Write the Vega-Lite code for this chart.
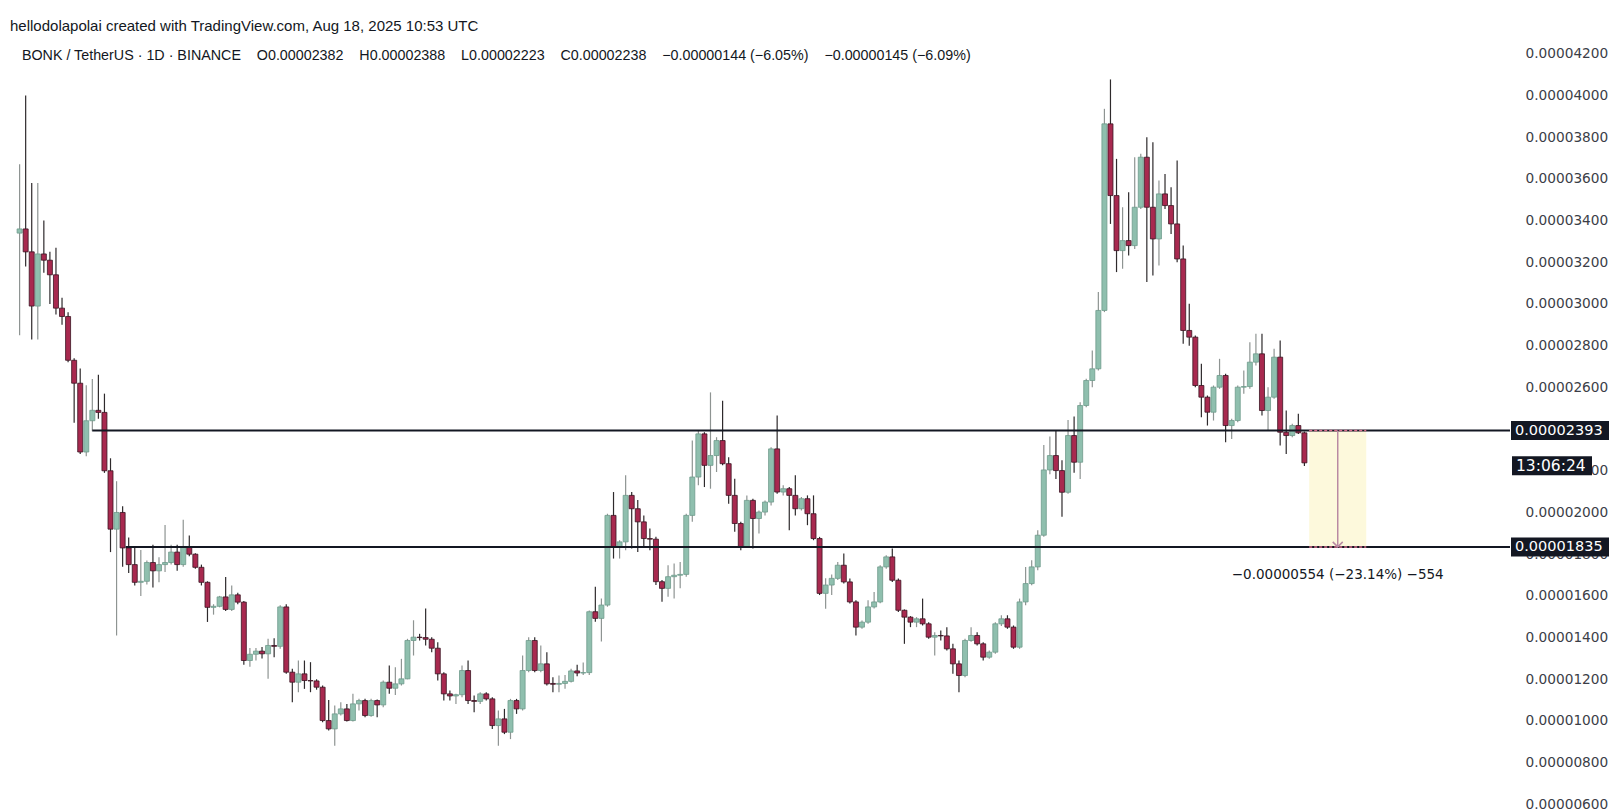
{
  "$schema": "https://vega.github.io/schema/vega-lite/v6.json",
  "width": 1510,
  "height": 810,
  "autosize": {"type": "none"},
  "padding": {"left": 0, "top": 0, "right": 111, "bottom": 0},
  "background": "#ffffff",
  "config": {"view": {"stroke": null}},
  "title": {
    "text": "hellodolapolai created with TradingView.com, Aug 18, 2025 10:53 UTC",
    "subtitle": "\u200b\u00a0\u00a0\u00a0BONK / TetherUS · 1D · BINANCE\u00a0\u00a0\u00a0 O0.00002382\u00a0\u00a0\u00a0 H0.00002388\u00a0\u00a0\u00a0 L0.00002223\u00a0\u00a0\u00a0 C0.00002238\u00a0\u00a0\u00a0 −0.00000144 (−6.05%)\u00a0\u00a0\u00a0 −0.00000145 (−6.09%)",
    "anchor": "start",
    "frame": "group",
    "orient": "top",
    "offset": -63,
    "dx": 10,
    "font": "Liberation Sans",
    "fontSize": 15,
    "fontWeight": "normal",
    "color": "#131722",
    "subtitleFont": "Liberation Sans",
    "subtitleFontSize": 14.3,
    "subtitleColor": "#131722",
    "subtitlePadding": 15
  },
  "datasets": {
    "candles": [
      {"t":"2025-01-18","o":33.4e-6,"h":36.7e-6,"l":28.5e-6,"c":33.6e-6},
      {"t":"2025-01-19","o":33.6e-6,"h":40.0e-6,"l":31.8e-6,"c":32.5e-6},
      {"t":"2025-01-20","o":32.5e-6,"h":35.8e-6,"l":28.3e-6,"c":29.9e-6},
      {"t":"2025-01-21","o":29.9e-6,"h":35.8e-6,"l":28.3e-6,"c":32.4e-6},
      {"t":"2025-01-22","o":32.4e-6,"h":34.0e-6,"l":31.5e-6,"c":32.1e-6},
      {"t":"2025-01-23","o":32.1e-6,"h":32.5e-6,"l":30.0e-6,"c":31.4e-6},
      {"t":"2025-01-24","o":31.4e-6,"h":32.7e-6,"l":29.5e-6,"c":29.8e-6},
      {"t":"2025-01-25","o":29.8e-6,"h":30.3e-6,"l":29.0e-6,"c":29.4e-6},
      {"t":"2025-01-26","o":29.4e-6,"h":29.6e-6,"l":27.2e-6,"c":27.3e-6},
      {"t":"2025-01-27","o":27.3e-6,"h":27.4e-6,"l":24.3e-6,"c":26.2e-6},
      {"t":"2025-01-28","o":26.2e-6,"h":26.9e-6,"l":22.8e-6,"c":22.9e-6},
      {"t":"2025-01-29","o":22.9e-6,"h":26.1e-6,"l":22.7e-6,"c":24.4e-6},
      {"t":"2025-01-30","o":24.4e-6,"h":26.4e-6,"l":23.9e-6,"c":24.9e-6},
      {"t":"2025-01-31","o":24.9e-6,"h":26.6e-6,"l":24.5e-6,"c":24.8e-6},
      {"t":"2025-02-01","o":24.8e-6,"h":25.7e-6,"l":21.9e-6,"c":22.0e-6},
      {"t":"2025-02-02","o":22.0e-6,"h":22.6e-6,"l":18.1e-6,"c":19.2e-6},
      {"t":"2025-02-03","o":19.2e-6,"h":21.5e-6,"l":14.1e-6,"c":20.0e-6},
      {"t":"2025-02-04","o":20.0e-6,"h":20.3e-6,"l":17.4e-6,"c":18.3e-6},
      {"t":"2025-02-05","o":18.3e-6,"h":18.8e-6,"l":17.1e-6,"c":17.5e-6},
      {"t":"2025-02-06","o":17.5e-6,"h":18.3e-6,"l":16.5e-6,"c":16.65e-6},
      {"t":"2025-02-07","o":16.65e-6,"h":18.2e-6,"l":16.0e-6,"c":16.7e-6},
      {"t":"2025-02-08","o":16.7e-6,"h":17.7e-6,"l":16.55e-6,"c":17.6e-6},
      {"t":"2025-02-09","o":17.6e-6,"h":18.45e-6,"l":16.4e-6,"c":17.2e-6},
      {"t":"2025-02-10","o":17.2e-6,"h":17.85e-6,"l":16.65e-6,"c":17.5e-6},
      {"t":"2025-02-11","o":17.5e-6,"h":19.4e-6,"l":17.15e-6,"c":17.6e-6},
      {"t":"2025-02-12","o":17.6e-6,"h":18.45e-6,"l":17.5e-6,"c":18.1e-6},
      {"t":"2025-02-13","o":18.1e-6,"h":18.45e-6,"l":17.2e-6,"c":17.5e-6},
      {"t":"2025-02-14","o":17.5e-6,"h":19.65e-6,"l":17.4e-6,"c":18.35e-6},
      {"t":"2025-02-15","o":18.35e-6,"h":18.9e-6,"l":17.9e-6,"c":18.0e-6},
      {"t":"2025-02-16","o":18.0e-6,"h":18.05e-6,"l":17.3e-6,"c":17.37e-6},
      {"t":"2025-02-17","o":17.37e-6,"h":17.5e-6,"l":16.5e-6,"c":16.65e-6},
      {"t":"2025-02-18","o":16.65e-6,"h":16.7e-6,"l":14.75e-6,"c":15.45e-6},
      {"t":"2025-02-19","o":15.45e-6,"h":15.6e-6,"l":15.1e-6,"c":15.5e-6},
      {"t":"2025-02-20","o":15.5e-6,"h":16.0e-6,"l":15.45e-6,"c":15.95e-6},
      {"t":"2025-02-21","o":15.95e-6,"h":16.9e-6,"l":15.27e-6,"c":15.35e-6},
      {"t":"2025-02-22","o":15.35e-6,"h":16.5e-6,"l":15.27e-6,"c":16.05e-6},
      {"t":"2025-02-23","o":16.05e-6,"h":16.15e-6,"l":15.6e-6,"c":15.7e-6},
      {"t":"2025-02-24","o":15.7e-6,"h":15.75e-6,"l":12.7e-6,"c":12.9e-6},
      {"t":"2025-02-25","o":12.9e-6,"h":13.5e-6,"l":12.6e-6,"c":13.2e-6},
      {"t":"2025-02-26","o":13.2e-6,"h":13.5e-6,"l":12.9e-6,"c":13.35e-6},
      {"t":"2025-02-27","o":13.35e-6,"h":13.55e-6,"l":13.0e-6,"c":13.22e-6},
      {"t":"2025-02-28","o":13.22e-6,"h":13.94e-6,"l":12.02e-6,"c":13.62e-6},
      {"t":"2025-03-01","o":13.62e-6,"h":13.97e-6,"l":13.06e-6,"c":13.58e-6},
      {"t":"2025-03-02","o":13.58e-6,"h":15.55e-6,"l":13.46e-6,"c":15.47e-6},
      {"t":"2025-03-03","o":15.47e-6,"h":15.6e-6,"l":12.26e-6,"c":12.34e-6},
      {"t":"2025-03-04","o":12.34e-6,"h":12.5e-6,"l":10.9e-6,"c":11.86e-6},
      {"t":"2025-03-05","o":11.86e-6,"h":12.9e-6,"l":11.38e-6,"c":12.26e-6},
      {"t":"2025-03-06","o":12.26e-6,"h":12.9e-6,"l":11.54e-6,"c":11.94e-6},
      {"t":"2025-03-07","o":11.94e-6,"h":12.82e-6,"l":11.38e-6,"c":11.92e-6},
      {"t":"2025-03-08","o":11.92e-6,"h":12.0e-6,"l":11.5e-6,"c":11.62e-6},
      {"t":"2025-03-09","o":11.62e-6,"h":11.7e-6,"l":9.94e-6,"c":10.02e-6},
      {"t":"2025-03-10","o":10.02e-6,"h":11.0e-6,"l":9.54e-6,"c":9.62e-6},
      {"t":"2025-03-11","o":9.62e-6,"h":10.74e-6,"l":8.81e-6,"c":10.34e-6},
      {"t":"2025-03-12","o":10.34e-6,"h":10.9e-6,"l":10.26e-6,"c":10.58e-6},
      {"t":"2025-03-13","o":10.58e-6,"h":10.82e-6,"l":9.98e-6,"c":10.02e-6},
      {"t":"2025-03-14","o":10.02e-6,"h":11.3e-6,"l":9.98e-6,"c":10.82e-6},
      {"t":"2025-03-15","o":10.82e-6,"h":11.06e-6,"l":10.5e-6,"c":10.98e-6},
      {"t":"2025-03-16","o":10.98e-6,"h":11.06e-6,"l":10.18e-6,"c":10.26e-6},
      {"t":"2025-03-17","o":10.26e-6,"h":11.06e-6,"l":10.2e-6,"c":10.98e-6},
      {"t":"2025-03-18","o":10.98e-6,"h":11.03e-6,"l":10.18e-6,"c":10.77e-6},
      {"t":"2025-03-19","o":10.77e-6,"h":11.94e-6,"l":10.66e-6,"c":11.86e-6},
      {"t":"2025-03-20","o":11.86e-6,"h":12.66e-6,"l":11.3e-6,"c":11.57e-6},
      {"t":"2025-03-21","o":11.57e-6,"h":12.58e-6,"l":11.25e-6,"c":11.78e-6},
      {"t":"2025-03-22","o":11.78e-6,"h":12.98e-6,"l":11.7e-6,"c":12.02e-6},
      {"t":"2025-03-23","o":12.02e-6,"h":13.94e-6,"l":12.0e-6,"c":13.86e-6},
      {"t":"2025-03-24","o":13.86e-6,"h":14.83e-6,"l":13.14e-6,"c":14.02e-6},
      {"t":"2025-03-25","o":14.02e-6,"h":14.18e-6,"l":13.86e-6,"c":14.0e-6},
      {"t":"2025-03-26","o":14.0e-6,"h":15.39e-6,"l":13.62e-6,"c":13.92e-6},
      {"t":"2025-03-27","o":13.92e-6,"h":14.02e-6,"l":13.3e-6,"c":13.49e-6},
      {"t":"2025-03-28","o":13.49e-6,"h":13.78e-6,"l":11.94e-6,"c":12.26e-6},
      {"t":"2025-03-29","o":12.26e-6,"h":12.34e-6,"l":10.98e-6,"c":11.3e-6},
      {"t":"2025-03-30","o":11.3e-6,"h":11.46e-6,"l":10.98e-6,"c":11.2e-6},
      {"t":"2025-03-31","o":11.2e-6,"h":11.3e-6,"l":10.82e-6,"c":11.26e-6},
      {"t":"2025-04-01","o":11.26e-6,"h":12.66e-6,"l":11.14e-6,"c":12.42e-6},
      {"t":"2025-04-02","o":12.42e-6,"h":12.9e-6,"l":10.82e-6,"c":10.98e-6},
      {"t":"2025-04-03","o":10.98e-6,"h":11.22e-6,"l":10.42e-6,"c":10.94e-6},
      {"t":"2025-04-04","o":10.94e-6,"h":11.38e-6,"l":10.82e-6,"c":11.3e-6},
      {"t":"2025-04-05","o":11.3e-6,"h":11.38e-6,"l":10.98e-6,"c":11.06e-6},
      {"t":"2025-04-06","o":11.06e-6,"h":11.14e-6,"l":9.62e-6,"c":9.78e-6},
      {"t":"2025-04-07","o":9.78e-6,"h":10.5e-6,"l":8.81e-6,"c":10.1e-6},
      {"t":"2025-04-08","o":10.1e-6,"h":10.58e-6,"l":9.37e-6,"c":9.46e-6},
      {"t":"2025-04-09","o":9.46e-6,"h":11.06e-6,"l":9.13e-6,"c":10.98e-6},
      {"t":"2025-04-10","o":10.98e-6,"h":11.06e-6,"l":10.34e-6,"c":10.58e-6},
      {"t":"2025-04-11","o":10.58e-6,"h":13.14e-6,"l":10.5e-6,"c":12.42e-6},
      {"t":"2025-04-12","o":12.42e-6,"h":14.02e-6,"l":12.34e-6,"c":13.86e-6},
      {"t":"2025-04-13","o":13.86e-6,"h":14.02e-6,"l":12.34e-6,"c":12.42e-6},
      {"t":"2025-04-14","o":12.42e-6,"h":13.62e-6,"l":12.34e-6,"c":12.74e-6},
      {"t":"2025-04-15","o":12.74e-6,"h":13.3e-6,"l":11.7e-6,"c":11.78e-6},
      {"t":"2025-04-16","o":11.8e-6,"h":12.1e-6,"l":11.38e-6,"c":11.76e-6},
      {"t":"2025-04-17","o":11.76e-6,"h":12.18e-6,"l":11.38e-6,"c":11.8e-6},
      {"t":"2025-04-18","o":11.8e-6,"h":12.2e-6,"l":11.55e-6,"c":11.9e-6},
      {"t":"2025-04-19","o":11.9e-6,"h":12.5e-6,"l":11.85e-6,"c":12.4e-6},
      {"t":"2025-04-20","o":12.4e-6,"h":12.7e-6,"l":12.15e-6,"c":12.3e-6},
      {"t":"2025-04-21","o":12.3e-6,"h":12.8e-6,"l":12.2e-6,"c":12.32e-6},
      {"t":"2025-04-22","o":12.32e-6,"h":15.3e-6,"l":12.2e-6,"c":15.24e-6},
      {"t":"2025-04-23","o":15.24e-6,"h":16.44e-6,"l":14.76e-6,"c":14.92e-6},
      {"t":"2025-04-24","o":14.92e-6,"h":15.88e-6,"l":13.81e-6,"c":15.56e-6},
      {"t":"2025-04-25","o":15.56e-6,"h":19.94e-6,"l":15.48e-6,"c":19.86e-6},
      {"t":"2025-04-26","o":19.86e-6,"h":20.98e-6,"l":17.79e-6,"c":18.35e-6},
      {"t":"2025-04-27","o":18.35e-6,"h":18.67e-6,"l":17.79e-6,"c":18.59e-6},
      {"t":"2025-04-28","o":18.59e-6,"h":21.78e-6,"l":18.19e-6,"c":20.82e-6},
      {"t":"2025-04-29","o":20.82e-6,"h":20.98e-6,"l":18.27e-6,"c":20.18e-6},
      {"t":"2025-04-30","o":20.18e-6,"h":20.6e-6,"l":18.11e-6,"c":19.55e-6},
      {"t":"2025-05-01","o":19.55e-6,"h":19.86e-6,"l":18.35e-6,"c":18.75e-6},
      {"t":"2025-05-02","o":18.75e-6,"h":19.23e-6,"l":18.19e-6,"c":18.72e-6},
      {"t":"2025-05-03","o":18.72e-6,"h":18.83e-6,"l":16.52e-6,"c":16.68e-6},
      {"t":"2025-05-04","o":16.68e-6,"h":16.76e-6,"l":15.72e-6,"c":16.36e-6},
      {"t":"2025-05-05","o":16.36e-6,"h":17.47e-6,"l":15.96e-6,"c":16.92e-6},
      {"t":"2025-05-06","o":16.92e-6,"h":17.55e-6,"l":15.88e-6,"c":16.99e-6},
      {"t":"2025-05-07","o":16.99e-6,"h":17.63e-6,"l":16.36e-6,"c":17.03e-6},
      {"t":"2025-05-08","o":17.03e-6,"h":19.94e-6,"l":16.92e-6,"c":19.86e-6},
      {"t":"2025-05-09","o":19.86e-6,"h":23.45e-6,"l":19.55e-6,"c":21.7e-6},
      {"t":"2025-05-10","o":21.7e-6,"h":23.93e-6,"l":21.3e-6,"c":23.77e-6},
      {"t":"2025-05-11","o":23.77e-6,"h":23.85e-6,"l":21.22e-6,"c":22.26e-6},
      {"t":"2025-05-12","o":22.26e-6,"h":25.76e-6,"l":21.14e-6,"c":22.73e-6},
      {"t":"2025-05-13","o":22.73e-6,"h":23.61e-6,"l":21.94e-6,"c":23.45e-6},
      {"t":"2025-05-14","o":23.45e-6,"h":25.36e-6,"l":22.26e-6,"c":22.34e-6},
      {"t":"2025-05-15","o":22.34e-6,"h":22.65e-6,"l":20.42e-6,"c":20.82e-6},
      {"t":"2025-05-16","o":20.82e-6,"h":21.62e-6,"l":19.07e-6,"c":19.47e-6},
      {"t":"2025-05-17","o":19.47e-6,"h":19.55e-6,"l":18.19e-6,"c":18.35e-6},
      {"t":"2025-05-18","o":18.35e-6,"h":20.82e-6,"l":18.3e-6,"c":20.58e-6},
      {"t":"2025-05-19","o":20.58e-6,"h":20.66e-6,"l":18.27e-6,"c":19.71e-6},
      {"t":"2025-05-20","o":19.71e-6,"h":20.1e-6,"l":18.99e-6,"c":20.02e-6},
      {"t":"2025-05-21","o":20.02e-6,"h":20.58e-6,"l":19.86e-6,"c":20.5e-6},
      {"t":"2025-05-22","o":20.5e-6,"h":23.13e-6,"l":20.34e-6,"c":23.05e-6},
      {"t":"2025-05-23","o":23.05e-6,"h":24.65e-6,"l":20.9e-6,"c":20.98e-6},
      {"t":"2025-05-24","o":20.98e-6,"h":21.3e-6,"l":20.82e-6,"c":21.14e-6},
      {"t":"2025-05-25","o":21.14e-6,"h":21.22e-6,"l":19.15e-6,"c":20.82e-6},
      {"t":"2025-05-26","o":20.82e-6,"h":21.78e-6,"l":19.86e-6,"c":20.18e-6},
      {"t":"2025-05-27","o":20.18e-6,"h":20.74e-6,"l":20.1e-6,"c":20.66e-6},
      {"t":"2025-05-28","o":20.66e-6,"h":20.82e-6,"l":19.39e-6,"c":19.94e-6},
      {"t":"2025-05-29","o":19.94e-6,"h":20.82e-6,"l":18.67e-6,"c":18.75e-6},
      {"t":"2025-05-30","o":18.75e-6,"h":18.83e-6,"l":16.04e-6,"c":16.12e-6},
      {"t":"2025-05-31","o":16.12e-6,"h":16.84e-6,"l":15.38e-6,"c":16.52e-6},
      {"t":"2025-06-01","o":16.52e-6,"h":17.03e-6,"l":16.04e-6,"c":16.84e-6},
      {"t":"2025-06-02","o":16.84e-6,"h":17.63e-6,"l":16.76e-6,"c":17.47e-6},
      {"t":"2025-06-03","o":17.47e-6,"h":18.03e-6,"l":16.59e-6,"c":16.67e-6},
      {"t":"2025-06-04","o":16.67e-6,"h":16.83e-6,"l":15.63e-6,"c":15.71e-6},
      {"t":"2025-06-05","o":15.71e-6,"h":15.79e-6,"l":14.1e-6,"c":14.5e-6},
      {"t":"2025-06-06","o":14.5e-6,"h":14.82e-6,"l":14.42e-6,"c":14.74e-6},
      {"t":"2025-06-07","o":14.74e-6,"h":15.79e-6,"l":14.66e-6,"c":15.47e-6},
      {"t":"2025-06-08","o":15.47e-6,"h":16.19e-6,"l":15.39e-6,"c":15.71e-6},
      {"t":"2025-06-09","o":15.71e-6,"h":17.47e-6,"l":15.65e-6,"c":17.39e-6},
      {"t":"2025-06-10","o":17.39e-6,"h":17.95e-6,"l":17.3e-6,"c":17.87e-6},
      {"t":"2025-06-11","o":17.87e-6,"h":18.27e-6,"l":16.67e-6,"c":16.75e-6},
      {"t":"2025-06-12","o":16.75e-6,"h":16.83e-6,"l":15.23e-6,"c":15.31e-6},
      {"t":"2025-06-13","o":15.31e-6,"h":15.35e-6,"l":13.7e-6,"c":14.98e-6},
      {"t":"2025-06-14","o":14.98e-6,"h":15.03e-6,"l":14.5e-6,"c":14.74e-6},
      {"t":"2025-06-15","o":14.74e-6,"h":14.98e-6,"l":14.5e-6,"c":14.9e-6},
      {"t":"2025-06-16","o":14.9e-6,"h":15.87e-6,"l":14.58e-6,"c":14.66e-6},
      {"t":"2025-06-17","o":14.66e-6,"h":14.74e-6,"l":13.94e-6,"c":14.02e-6},
      {"t":"2025-06-18","o":14.02e-6,"h":14.26e-6,"l":13.14e-6,"c":14.1e-6},
      {"t":"2025-06-19","o":14.1e-6,"h":14.34e-6,"l":13.86e-6,"c":14.08e-6},
      {"t":"2025-06-20","o":14.08e-6,"h":14.5e-6,"l":13.38e-6,"c":13.46e-6},
      {"t":"2025-06-21","o":13.46e-6,"h":13.7e-6,"l":12.26e-6,"c":12.74e-6},
      {"t":"2025-06-22","o":12.74e-6,"h":12.9e-6,"l":11.38e-6,"c":12.18e-6},
      {"t":"2025-06-23","o":12.18e-6,"h":13.94e-6,"l":12.1e-6,"c":13.86e-6},
      {"t":"2025-06-24","o":13.86e-6,"h":14.5e-6,"l":13.8e-6,"c":14.1e-6},
      {"t":"2025-06-25","o":14.1e-6,"h":14.26e-6,"l":13.62e-6,"c":13.7e-6},
      {"t":"2025-06-26","o":13.7e-6,"h":13.78e-6,"l":12.9e-6,"c":13.06e-6},
      {"t":"2025-06-27","o":13.06e-6,"h":13.38e-6,"l":12.98e-6,"c":13.3e-6},
      {"t":"2025-06-28","o":13.3e-6,"h":14.74e-6,"l":13.22e-6,"c":14.66e-6},
      {"t":"2025-06-29","o":14.66e-6,"h":15.07e-6,"l":14.55e-6,"c":14.9e-6},
      {"t":"2025-06-30","o":14.9e-6,"h":15.07e-6,"l":14.42e-6,"c":14.5e-6},
      {"t":"2025-07-01","o":14.5e-6,"h":14.58e-6,"l":13.46e-6,"c":13.54e-6},
      {"t":"2025-07-02","o":13.54e-6,"h":15.87e-6,"l":13.46e-6,"c":15.71e-6},
      {"t":"2025-07-03","o":15.71e-6,"h":17.39e-6,"l":15.55e-6,"c":16.59e-6},
      {"t":"2025-07-04","o":16.59e-6,"h":17.71e-6,"l":16.51e-6,"c":17.39e-6},
      {"t":"2025-07-05","o":17.39e-6,"h":19.15e-6,"l":17.23e-6,"c":18.91e-6},
      {"t":"2025-07-06","o":18.91e-6,"h":23.24e-6,"l":18.83e-6,"c":22.04e-6},
      {"t":"2025-07-07","o":22.04e-6,"h":23.64e-6,"l":21.83e-6,"c":22.73e-6},
      {"t":"2025-07-08","o":22.73e-6,"h":23.96e-6,"l":21.6e-6,"c":22.01e-6},
      {"t":"2025-07-09","o":22.01e-6,"h":22.5e-6,"l":19.8e-6,"c":20.97e-6},
      {"t":"2025-07-10","o":20.97e-6,"h":24.44e-6,"l":20.9e-6,"c":23.69e-6},
      {"t":"2025-07-11","o":23.69e-6,"h":24.6e-6,"l":21.9e-6,"c":22.41e-6},
      {"t":"2025-07-12","o":22.41e-6,"h":25.29e-6,"l":21.61e-6,"c":25.13e-6},
      {"t":"2025-07-13","o":25.13e-6,"h":26.41e-6,"l":25.05e-6,"c":26.33e-6},
      {"t":"2025-07-14","o":26.33e-6,"h":27.77e-6,"l":26.01e-6,"c":26.89e-6},
      {"t":"2025-07-15","o":26.89e-6,"h":30.57e-6,"l":26.81e-6,"c":29.69e-6},
      {"t":"2025-07-16","o":29.69e-6,"h":39.36e-6,"l":29.61e-6,"c":38.64e-6},
      {"t":"2025-07-17","o":38.64e-6,"h":40.77e-6,"l":33.84e-6,"c":35.2e-6},
      {"t":"2025-07-18","o":35.2e-6,"h":36.96e-6,"l":31.53e-6,"c":32.56e-6},
      {"t":"2025-07-19","o":32.56e-6,"h":34.64e-6,"l":31.69e-6,"c":33.04e-6},
      {"t":"2025-07-20","o":33.04e-6,"h":35.36e-6,"l":32.32e-6,"c":32.8e-6},
      {"t":"2025-07-21","o":32.8e-6,"h":37.04e-6,"l":32.64e-6,"c":34.64e-6},
      {"t":"2025-07-22","o":34.64e-6,"h":37.2e-6,"l":34.56e-6,"c":37.04e-6},
      {"t":"2025-07-23","o":37.04e-6,"h":38.0e-6,"l":31.05e-6,"c":34.64e-6},
      {"t":"2025-07-24","o":34.64e-6,"h":37.76e-6,"l":31.37e-6,"c":33.12e-6},
      {"t":"2025-07-25","o":33.12e-6,"h":35.92e-6,"l":31.85e-6,"c":35.28e-6},
      {"t":"2025-07-26","o":35.28e-6,"h":36.24e-6,"l":34.56e-6,"c":34.72e-6},
      {"t":"2025-07-27","o":34.72e-6,"h":35.6e-6,"l":33.36e-6,"c":33.84e-6},
      {"t":"2025-07-28","o":33.84e-6,"h":36.88e-6,"l":32.0e-6,"c":32.16e-6},
      {"t":"2025-07-29","o":32.16e-6,"h":32.8e-6,"l":28.09e-6,"c":28.73e-6},
      {"t":"2025-07-30","o":28.73e-6,"h":30.01e-6,"l":28.0e-6,"c":28.41e-6},
      {"t":"2025-07-31","o":28.41e-6,"h":28.49e-6,"l":26.01e-6,"c":26.09e-6},
      {"t":"2025-08-01","o":26.09e-6,"h":27.13e-6,"l":24.57e-6,"c":25.53e-6},
      {"t":"2025-08-02","o":25.53e-6,"h":25.61e-6,"l":24.17e-6,"c":24.81e-6},
      {"t":"2025-08-03","o":24.81e-6,"h":26.09e-6,"l":24.41e-6,"c":26.01e-6},
      {"t":"2025-08-04","o":26.01e-6,"h":27.37e-6,"l":25.93e-6,"c":26.57e-6},
      {"t":"2025-08-05","o":26.57e-6,"h":26.65e-6,"l":23.37e-6,"c":24.17e-6},
      {"t":"2025-08-06","o":24.17e-6,"h":24.49e-6,"l":23.53e-6,"c":24.41e-6},
      {"t":"2025-08-07","o":24.41e-6,"h":26.09e-6,"l":24.33e-6,"c":26.01e-6},
      {"t":"2025-08-08","o":26.01e-6,"h":26.81e-6,"l":25.69e-6,"c":26.04e-6},
      {"t":"2025-08-09","o":26.04e-6,"h":28.17e-6,"l":25.93e-6,"c":27.21e-6},
      {"t":"2025-08-10","o":27.21e-6,"h":28.57e-6,"l":27.05e-6,"c":27.61e-6},
      {"t":"2025-08-11","o":27.61e-6,"h":28.57e-6,"l":24.65e-6,"c":24.89e-6},
      {"t":"2025-08-12","o":24.89e-6,"h":26.01e-6,"l":23.93e-6,"c":25.53e-6},
      {"t":"2025-08-13","o":25.53e-6,"h":27.85e-6,"l":25.45e-6,"c":27.45e-6},
      {"t":"2025-08-14","o":27.45e-6,"h":28.25e-6,"l":23.21e-6,"c":23.85e-6},
      {"t":"2025-08-15","o":23.85e-6,"h":24.89e-6,"l":22.81e-6,"c":23.69e-6},
      {"t":"2025-08-16","o":23.69e-6,"h":24.25e-6,"l":23.61e-6,"c":24.17e-6},
      {"t":"2025-08-17","o":24.17e-6,"h":24.73e-6,"l":23.77e-6,"c":23.82e-6},
      {"t":"2025-08-18","o":23.82e-6,"h":23.88e-6,"l":22.23e-6,"c":22.38e-6}
    ],
    "levels": [
      {"from": "2025-01-30T00:00:00Z", "p": 23.93e-6},
      {"from": "2025-02-04T12:00:00Z", "p": 18.35e-6}
    ],
    "measure": [
      {"from": "2025-08-18T19:00:00Z", "to": "2025-08-28T05:00:00Z", "mid": "2025-08-23T12:00:00Z", "top": 23.93e-6, "bottom": 18.35e-6, "label": "−0.00000554 (−23.14%) −554"}
    ],
    "timer": [
      {"p": 22.38e-6, "label": "13:06:24"}
    ]
  },
  "layer": [
    {
      "data": {"name": "candles"},
      "mark": {"type": "rule", "strokeWidth": 1.2},
      "encoding": {
        "x": {"field": "t", "type": "temporal", "axis": null,
              "scale": {"type": "utc", "domain": [{"year": 2025, "month": 1, "date": 15, "hours": 14, "minutes": 10, "utc": true}, {"year": 2025, "month": 9, "date": 20, "hours": 2, "minutes": 24, "utc": true}]}},
        "y": {"field": "l", "type": "quantitative",
              "scale": {"domain": [5.73e-6, 44.58e-6], "nice": false, "zero": false},
              "axis": {"orient": "right", "title": null, "format": ".8f",
                       "values": [6e-6, 8e-6, 10e-6, 12e-6, 14e-6, 16e-6, 18e-6, 20e-6, 22e-6, 24e-6, 26e-6, 28e-6, 30e-6, 32e-6, 34e-6, 36e-6, 38e-6, 40e-6, 42e-6],
                       "domain": false, "ticks": false, "grid": false, "labelPadding": 15,
                       "labelAlign": "left", "labelBaseline": "middle", "labelFont": "DejaVu Sans",
                       "labelFontSize": 13.7, "labelColor": "#3b3e47", "labelOverlap": false}},
        "y2": {"field": "h"},
        "color": {"condition": {"test": "datum.c < datum.o", "value": "#2e2a2c"}, "value": "#8e9492"}
      }
    },
    {
      "data": {"name": "measure"},
      "mark": {"type": "rect", "fill": "#fdf9dc"},
      "encoding": {
        "x": {"field": "from", "type": "temporal", "axis": null},
        "x2": {"field": "to"},
        "y": {"field": "top", "type": "quantitative"},
        "y2": {"field": "bottom"}
      }
    },
    {
      "data": {"name": "candles"},
      "mark": {"type": "bar", "size": 5, "strokeWidth": 0.8},
      "encoding": {
        "x": {"field": "t", "type": "temporal", "axis": null},
        "y": {"field": "o", "type": "quantitative"},
        "y2": {"field": "c"},
        "color": {"condition": {"test": "datum.c < datum.o", "value": "#a8294f"}, "value": "#8fbfae"},
        "stroke": {"condition": {"test": "datum.c < datum.o", "value": "#3a1422"}, "value": "#6f9a8b"}
      }
    },
    {
      "data": {"name": "levels"},
      "mark": {"type": "rule", "strokeWidth": 2, "color": "#131722"},
      "encoding": {
        "x": {"field": "from", "type": "temporal", "axis": null},
        "x2": {"value": "width"},
        "y": {"field": "p", "type": "quantitative"}
      }
    },
    {
      "data": {"name": "measure"},
      "mark": {"type": "rule", "strokeWidth": 1.5, "color": "#d86f8f", "strokeDash": [3, 2]},
      "encoding": {
        "x": {"field": "from", "type": "temporal", "axis": null},
        "x2": {"field": "to"},
        "y": {"field": "top", "type": "quantitative"}
      }
    },
    {
      "data": {"name": "measure"},
      "mark": {"type": "rule", "strokeWidth": 1.5, "color": "#d86f8f", "strokeDash": [3, 2]},
      "encoding": {
        "x": {"field": "from", "type": "temporal", "axis": null},
        "x2": {"field": "to"},
        "y": {"field": "bottom", "type": "quantitative"}
      }
    },
    {
      "data": {"name": "measure"},
      "mark": {"type": "rule", "strokeWidth": 1.5, "color": "#b98aa3"},
      "encoding": {
        "x": {"field": "mid", "type": "temporal", "axis": null},
        "y": {"field": "top", "type": "quantitative"},
        "y2": {"field": "bottom"}
      }
    },
    {
      "data": {"name": "measure"},
      "mark": {"type": "point", "shape": "M-1,-1L0,0L1,-1", "size": 100, "filled": false, "stroke": "#b98aa3", "strokeWidth": 1.5, "opacity": 1},
      "encoding": {
        "x": {"field": "mid", "type": "temporal", "axis": null},
        "y": {"field": "bottom", "type": "quantitative"}
      }
    },
    {
      "data": {"name": "measure"},
      "mark": {"type": "text", "font": "DejaVu Sans", "fontSize": 13.5, "color": "#131722", "align": "center", "baseline": "middle", "dy": 28},
      "encoding": {
        "x": {"field": "mid", "type": "temporal", "axis": null},
        "y": {"field": "bottom", "type": "quantitative"},
        "text": {"field": "label"}
      }
    },
    {
      "data": {"name": "levels"},
      "mark": {"type": "point", "shape": "M0.1,-0.95H9.9V0.95H0.1Z", "size": 400, "filled": true, "color": "#131722", "opacity": 1},
      "encoding": {
        "x": {"value": "width"},
        "y": {"field": "p", "type": "quantitative"}
      }
    },
    {
      "data": {"name": "levels"},
      "mark": {"type": "text", "font": "DejaVu Sans", "fontSize": 14.5, "color": "#ffffff", "align": "left", "baseline": "middle", "dx": 5},
      "encoding": {
        "x": {"value": "width"},
        "y": {"field": "p", "type": "quantitative"},
        "text": {"field": "p", "type": "quantitative", "format": ".8f"}
      }
    },
    {
      "data": {"name": "timer"},
      "mark": {"type": "point", "shape": "M0.2,-0.65H8.2V1.25H0.2Z", "size": 400, "filled": true, "color": "#131722", "opacity": 1},
      "encoding": {
        "x": {"value": "width"},
        "y": {"field": "p", "type": "quantitative"}
      }
    },
    {
      "data": {"name": "timer"},
      "mark": {"type": "text", "font": "DejaVu Sans", "fontSize": 15.5, "color": "#ffffff", "align": "left", "baseline": "middle", "dx": 6, "dy": 3},
      "encoding": {
        "x": {"value": "width"},
        "y": {"field": "p", "type": "quantitative"},
        "text": {"field": "label"}
      }
    }
  ]
}
